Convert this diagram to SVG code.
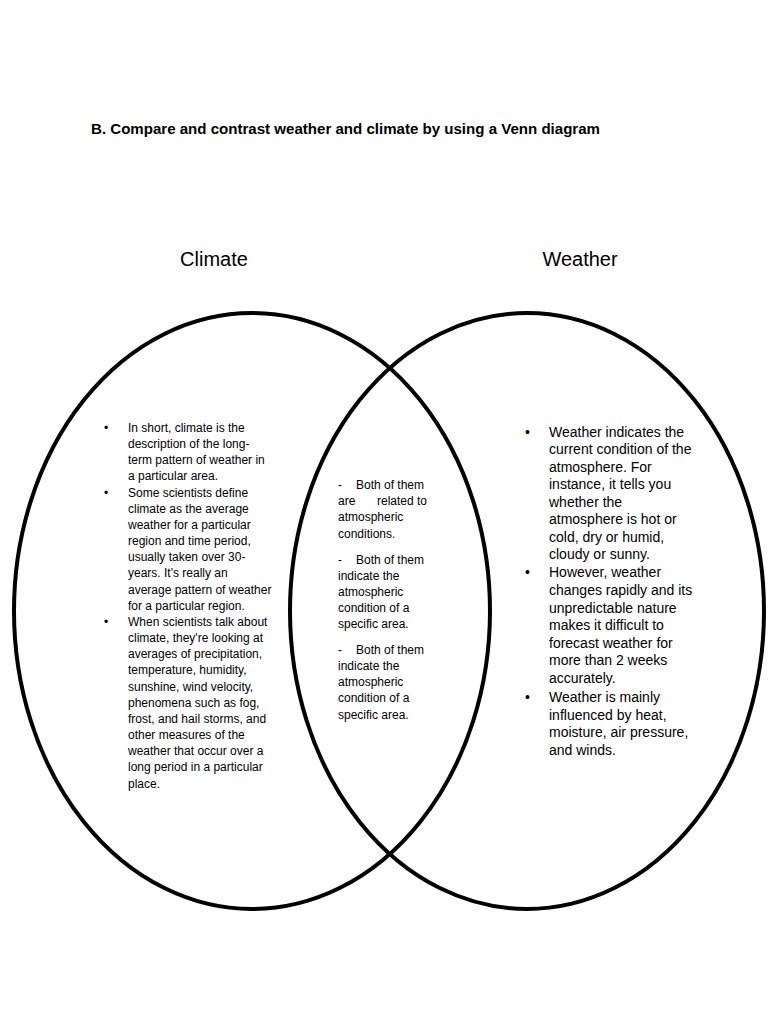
<svg xmlns="http://www.w3.org/2000/svg" width="768" height="1024" viewBox="0 0 768 1024">
<style>
text{font-family:"Liberation Sans",Arial,sans-serif;fill:#000}
.c{fill:none;stroke:#000;stroke-width:4}
.s{font-size:12px}
.r{font-size:14px}
.h{font-size:20px;text-anchor:middle}
</style>
<rect width="768" height="1024" fill="#fff"/>
<text x="91" y="134" font-size="14" font-weight="bold" textLength="509" lengthAdjust="spacingAndGlyphs">B. Compare and contrast weather and climate by using a Venn diagram</text>
<text class="h" x="214" y="266">Climate</text>
<text class="h" x="580" y="266">Weather</text>
<g id="climate"><ellipse class="c" cx="252" cy="611" rx="238" ry="298"/></g>
<g id="weather"><ellipse class="c" cx="527" cy="611" rx="237" ry="298"/></g>
<g id="connectors"/>
<g id="climate-text" class="s">
<text x="104" y="432">•</text>
<text x="128" y="432">In short, climate is the</text>
<text x="128" y="448">description of the long-</text>
<text x="128" y="464">term pattern of weather in</text>
<text x="128" y="480">a particular area.</text>
<text x="104" y="497">•</text>
<text x="128" y="497">Some scientists define</text>
<text x="128" y="513">climate as the average</text>
<text x="128" y="529">weather for a particular</text>
<text x="128" y="545">region and time period,</text>
<text x="128" y="561">usually taken over 30-</text>
<text x="128" y="577">years. It's really an</text>
<text x="128" y="594">average pattern of weather</text>
<text x="128" y="610">for a particular region.</text>
<text x="104" y="626">•</text>
<text x="128" y="626">When scientists talk about</text>
<text x="128" y="642">climate, they're looking at</text>
<text x="128" y="658">averages of precipitation,</text>
<text x="128" y="674">temperature, humidity,</text>
<text x="128" y="691">sunshine, wind velocity,</text>
<text x="128" y="707">phenomena such as fog,</text>
<text x="128" y="723">frost, and hail storms, and</text>
<text x="128" y="739">other measures of the</text>
<text x="128" y="755">weather that occur over a</text>
<text x="128" y="771">long period in a particular</text>
<text x="128" y="788">place.</text>
</g>
<g id="both-text" class="s">
<text x="338" y="489">-<tspan x="356">Both of them</tspan></text>
<text x="338" y="505">are<tspan x="377">related to</tspan></text>
<text x="338" y="521">atmospheric</text>
<text x="338" y="538">conditions.</text>
<text x="338" y="564">-<tspan x="356">Both of them</tspan></text>
<text x="338" y="580">indicate the</text>
<text x="338" y="596">atmospheric</text>
<text x="338" y="612">condition of a</text>
<text x="338" y="628">specific area.</text>
<text x="338" y="654">-<tspan x="356">Both of them</tspan></text>
<text x="338" y="670">indicate the</text>
<text x="338" y="686">atmospheric</text>
<text x="338" y="702">condition of a</text>
<text x="338" y="719">specific area.</text>
</g>
<g id="weather-text" class="r">
<text x="525" y="437">•</text>
<text x="549" y="437">Weather indicates the</text>
<text x="549" y="454">current condition of the</text>
<text x="549" y="472">atmosphere. For</text>
<text x="549" y="489">instance, it tells you</text>
<text x="549" y="507">whether the</text>
<text x="549" y="524">atmosphere is hot or</text>
<text x="549" y="542">cold, dry or humid,</text>
<text x="549" y="559">cloudy or sunny.</text>
<text x="525" y="577">•</text>
<text x="549" y="577">However, weather</text>
<text x="549" y="595">changes rapidly and its</text>
<text x="549" y="613">unpredictable nature</text>
<text x="549" y="630">makes it difficult to</text>
<text x="549" y="648">forecast weather for</text>
<text x="549" y="665">more than 2 weeks</text>
<text x="549" y="683">accurately.</text>
<text x="525" y="702">•</text>
<text x="549" y="702">Weather is mainly</text>
<text x="549" y="720">influenced by heat,</text>
<text x="549" y="737">moisture, air pressure,</text>
<text x="549" y="755">and winds.</text>
</g>
</svg>
